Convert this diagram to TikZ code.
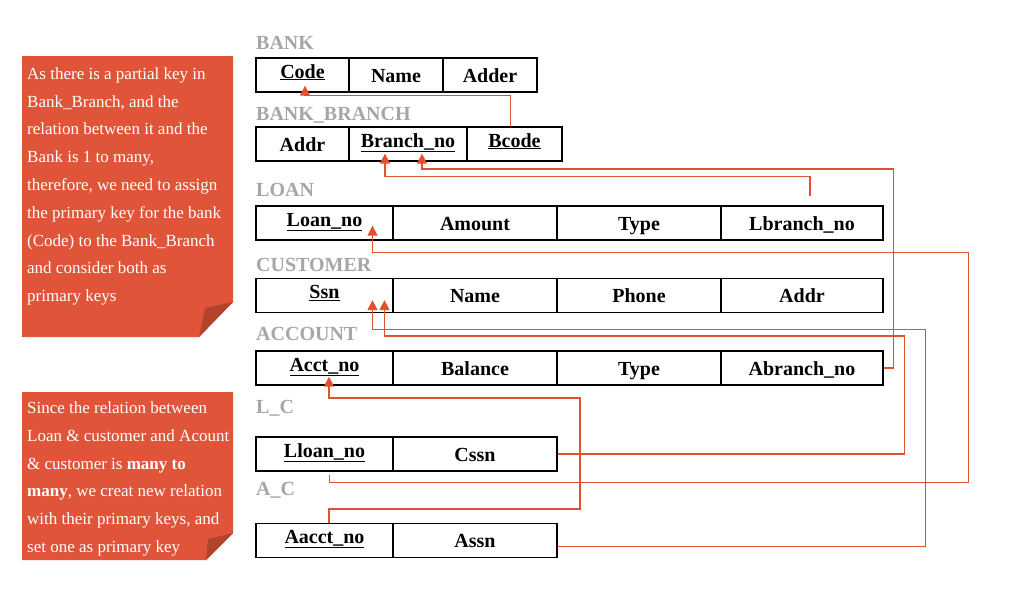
\documentclass[tikz,border=0pt]{standalone}
\usepackage{fontspec}
\setmainfont{Liberation Serif}
\usetikzlibrary{arrows.meta}
\definecolor{notered}{HTML}{E0553A}
\definecolor{foldred}{HTML}{B4432C}
\definecolor{linkred}{HTML}{E2502F}
\definecolor{titlegray}{HTML}{A6A6A6}
\tikzset{
  cell/.style={draw, line width=1.3pt, minimum height=34pt, inner sep=1pt,
    text height=18pt, text depth=4pt, font=\fontsize{20}{24}\selectfont\bfseries},
  pk/.style={cell, text depth=12pt},
  title/.style={anchor=base west, inner sep=0pt, text=titlegray,
    font=\fontsize{20}{24}\selectfont\bfseries},
  notetext/.style={anchor=north west, inner sep=0pt, text=white, align=left,
    font=\fontsize{17}{27.75}\selectfont},
  fk/.style={linkred, line width=1.5pt},
  tip/.style={-{Triangle[width=10pt,length=10pt]}}
}
\begin{document}
\begin{tikzpicture}[x=1pt,y=-1pt]
  \useasboundingbox (0,0) rectangle (1024,589);
  % notes
  \fill[notered] (22,56) -- (233,56) -- (233,302) -- (199,337) -- (22,337) -- cycle;
  \fill[foldred] (199,337) -- (205,308) -- (233,302) -- cycle;
  \fill[notered] (22,392) -- (233,392) -- (233,533) -- (206,560) -- (22,560) -- cycle;
  \fill[foldred] (206,560) -- (208,539) -- (233,533) -- cycle;
  \draw
    (27,67.5) node[notetext] (note1) {As there is a partial key in\\
      Bank\_Branch, and the\\
      relation between it and the\\
      Bank is 1 to many,\\
      therefore, we need to assign\\
      the primary key for the bank\\
      (Code) to the Bank\_Branch\\
      and consider both as\\
      primary keys}
    (27,401.5) node[notetext] (note2) {Since the relation between\\
      Loan \& customer and Acount\\
      \& customer is \textbf{many to}\\
      \textbf{many}, we creat new relation\\
      with their primary keys, and\\
      set one as primary key};
  % tables
  \draw
    (256,49) node[title] (tbank) {BANK}
    (302.5,75) node[pk, minimum width=93pt] (code) {\underline{Code}}
    (396,75) node[cell, minimum width=94pt] (bname) {Name}
    (490,75) node[cell, minimum width=94pt] (adder) {Adder}
    (256,120) node[title] (tbranch) {BANK\_BRANCH}
    (302.5,144) node[cell, minimum width=93pt] (baddr) {Addr}
    (408,144) node[pk, minimum width=118pt] (branch) {\underline{Branch\_no}}
    (514.5,144) node[pk, minimum width=95pt] (bcode) {\underline{Bcode}}
    (256,196) node[title] (tloan) {LOAN}
    (324.5,223) node[pk, minimum width=137pt] (loan) {\underline{Loan\_no}}
    (475,223) node[cell, minimum width=164pt] (amount) {Amount}
    (639,223) node[cell, minimum width=164pt] (ltype) {Type}
    (802,223) node[cell, minimum width=162pt] (lbranch) {Lbranch\_no}
    (256,271) node[title] (tcust) {CUSTOMER}
    (324.5,295.5) node[pk, minimum width=137pt] (ssn) {\underline{Ssn}}
    (475,295.5) node[cell, minimum width=164pt] (cname) {Name}
    (639,295.5) node[cell, minimum width=164pt] (phone) {Phone}
    (802,295.5) node[cell, minimum width=162pt] (caddr) {Addr}
    (256,340) node[title] (tacct) {ACCOUNT}
    (324.5,368) node[pk, minimum width=137pt] (acct) {\underline{Acct\_no}}
    (475,368) node[cell, minimum width=164pt] (balance) {Balance}
    (639,368) node[cell, minimum width=164pt] (atype) {Type}
    (802,368) node[cell, minimum width=162pt] (abranch) {Abranch\_no}
    (256,413) node[title] (tlc) {L\_C}
    (324.5,454) node[pk, minimum width=137pt] (lloan) {\underline{Lloan\_no}}
    (475,454) node[cell, minimum width=164pt] (cssn) {Cssn}
    (256,495) node[title] (tac) {A\_C}
    (324.5,540.5) node[pk, minimum width=137pt] (aacct) {\underline{Aacct\_no}}
    (475,540.5) node[cell, minimum width=164pt] (assn) {Assn};
  % foreign keys
  \begin{scope}[fk]
    \draw[tip] ([xshift=-4pt]bcode.north) -- ++(0,-31) -| ([xshift=2.5pt,yshift=7pt]code.south);
    \draw[tip] ([xshift=8pt,yshift=9pt]lbranch.north) -- ++(0,-20) -| ([xshift=-23pt,yshift=8pt]branch.south);
    \draw[tip] (abranch.east) -- ++(10,0) -- ++(0,-199) -| ([xshift=14pt,yshift=8pt]branch.south);
    \draw[tip] ([xshift=5pt,yshift=-3pt]lloan.south) -- ++(0,8) -- ++(639,0) -- ++(0,-230) -| ([xshift=48pt,yshift=15pt]loan.south);
    \draw[tip] ([yshift=-6pt]assn.east) -- ++(368,0) -- ++(0,-217) -| ([xshift=48pt,yshift=13pt]ssn.south);
    \draw[tip] (cssn.east) -- ++(347,0) -- ++(0,-118) -| ([xshift=60pt,yshift=13pt]ssn.south);
    \draw[tip] ([xshift=4.5pt]aacct.north) -- ++(0,-14) -- ++(251,0) -- ++(0,-111) -| ([xshift=4.5pt,yshift=9pt]acct.south);
  \end{scope}
\end{tikzpicture}
\end{document}
